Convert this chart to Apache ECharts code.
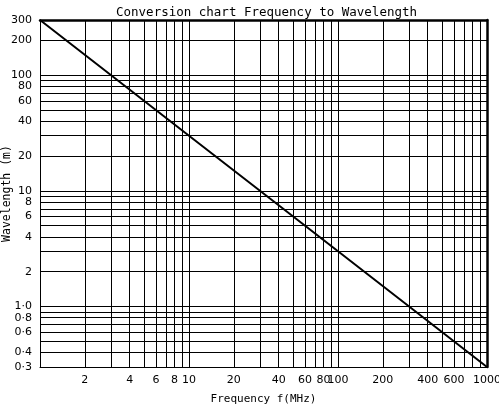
<!doctype html>
<html>
<head>
<meta charset="utf-8">
<title>Conversion chart Frequency to Wavelength</title>
<style>
html,body{margin:0;padding:0;background:#fff;}
#main{width:499px;height:405px;}
</style>
</head>
<body>
<div id="main"></div>
<script src="https://cdn.jsdelivr.net/npm/echarts@6/dist/echarts.min.js"></script>
<script>
var chart = echarts.init(document.getElementById('main'));

// frequency in MHz, wavelength in m
var freq = [1, 10, 100, 1000];
var wavelength = [300, 30, 3, 0.3];

// grid lines and labels
var xGrid = [1, 2, 3, 4, 5, 6, 7, 8, 9, 10, 20, 30, 40, 50, 60, 70, 80, 90, 100,
  200, 300, 400, 500, 600, 700, 800, 900, 1000];
var xLabels = [2, 4, 6, 8, 10, 20, 40, 60, 80, 100, 200, 400, 600, 1000];
var yGrid = [0.3, 0.4, 0.5, 0.6, 0.7, 0.8, 0.9, 1, 2, 3, 4, 5, 6, 7, 8, 9, 10,
  20, 30, 40, 50, 60, 70, 80, 90, 100, 200, 300];
var yLabels = [0.3, 0.4, 0.6, 0.8, 1, 2, 4, 6, 8, 10, 20, 40, 60, 80, 100, 200, 300];

var font = 'DejaVu Sans';
var mono = 'DejaVu Sans Mono';

function yFmt(v) {
  if (v < 1) return '0·' + Math.round(v * 10);
  if (v === 1) return '1·0';
  return String(v);
}

var lineData = [];
for (var i = 0; i < freq.length; i++) lineData.push([freq[i], wavelength[i]]);

option = {
  animation: false,
  title: {
    text: 'Conversion chart Frequency to Wavelength',
    left: 111,
    top: 1,
    textStyle: { fontFamily: mono, fontSize: 12.5, fontWeight: 'normal', color: '#000' }
  },
  grid: { left: 40, right: 12, top: 20, bottom: 38, outerBoundsMode: 'none', containLabel: false },
  xAxis: [{
    type: 'log',
    logBase: 10,
    min: 1,
    max: 1000,
    name: 'Frequency f(MHz)',
    nameLocation: 'middle',
    nameGap: 27,
    nameMoveOverlap: false,
    nameTextStyle: { fontFamily: mono, fontSize: 11, color: '#000' },
    axisLine: { show: true, lineStyle: { color: '#000', width: 1 } },
    axisTick: { show: false, customValues: xGrid },
    axisLabel: {
      customValues: xLabels,
      formatter: function (v) { return String(v); },
      fontFamily: font, fontSize: 11, color: '#000', margin: 8
    },
    splitLine: { show: true, lineStyle: { color: '#000', width: 1 } }
  }, {
    type: 'log',
    position: 'top',
    min: 1,
    max: 1000,
    axisLine: { show: true, lineStyle: { color: '#000', width: 2.5 } },
    axisTick: { show: false },
    axisLabel: { show: false },
    splitLine: { show: false }
  }],
  yAxis: [{
    type: 'log',
    logBase: 10,
    min: 0.3,
    max: 300,
    name: 'Wavelength (m)',
    nameLocation: 'middle',
    nameGap: 27,
    nameMoveOverlap: false,
    nameTextStyle: { fontFamily: mono, fontSize: 11.5, color: '#000' },
    axisLine: { show: true, lineStyle: { color: '#000', width: 1 } },
    axisTick: { show: false, customValues: yGrid },
    axisLabel: {
      customValues: yLabels,
      formatter: yFmt,
      fontFamily: font, fontSize: 11, color: '#000', margin: 8
    },
    splitLine: { show: true, lineStyle: { color: '#000', width: 1 } }
  }, {
    type: 'log',
    position: 'right',
    min: 0.3,
    max: 300,
    axisLine: { show: true, lineStyle: { color: '#000', width: 2.5 } },
    axisTick: { show: false },
    axisLabel: { show: false },
    splitLine: { show: false }
  }],
  series: [{
    type: 'line',
    data: lineData,
    symbol: 'none',
    lineStyle: { color: '#000', width: 2 }
  }]
};

chart.setOption(option);
</script>
</body>
</html>
